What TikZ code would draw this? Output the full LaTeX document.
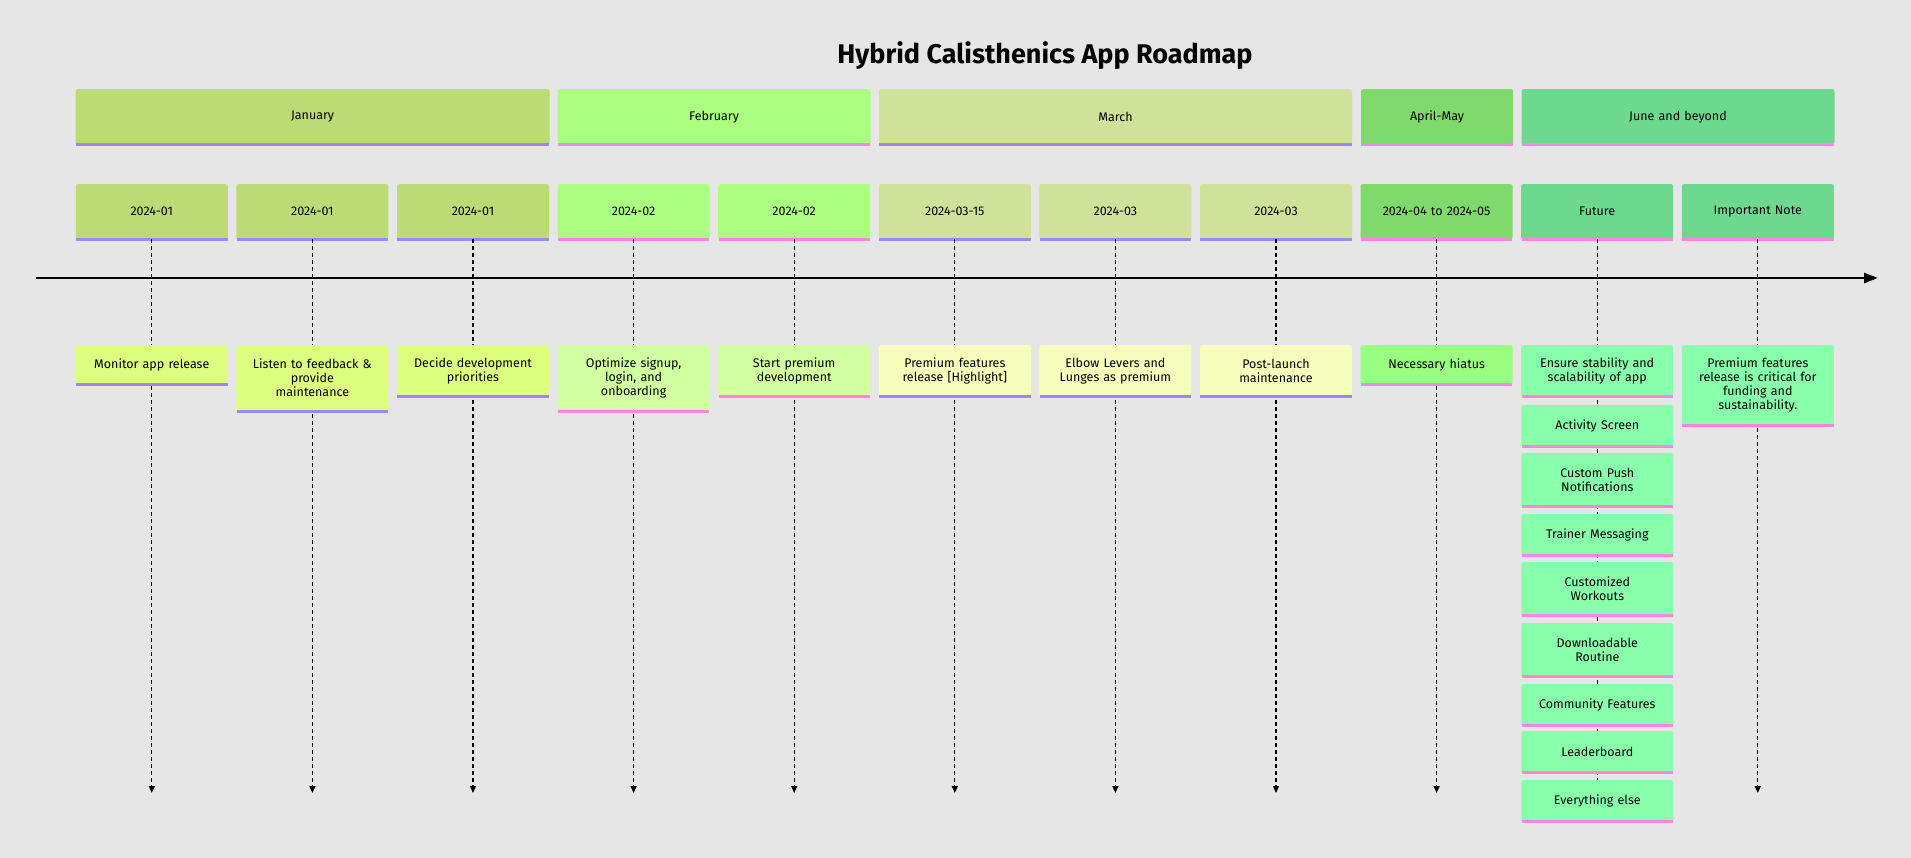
\documentclass[tikz,border=0pt]{standalone}
\usepackage{fontspec}
\setmainfont{Fira Sans}
\usetikzlibrary{arrows.meta}
\definecolor{bg}{HTML}{E6E6E6}
\definecolor{janS}{HTML}{BCDB75}\definecolor{janE}{HTML}{DDFF80}
\definecolor{febS}{HTML}{AAFF80}\definecolor{febE}{HTML}{D2FF9F}
\definecolor{marS}{HTML}{D0E29A}\definecolor{marE}{HTML}{F5FFBB}
\definecolor{aprS}{HTML}{80D96B}\definecolor{aprE}{HTML}{99FF80}
\definecolor{junS}{HTML}{6CD98F}\definecolor{junE}{HTML}{88FFAA}
\definecolor{purp}{HTML}{9F85FF}\definecolor{pink}{HTML}{FF85E0}
\tikzset{
 box/.style={anchor=north, inner sep=2pt, align=center, text width=148pt, font=\fontsize{12.5}{14}\selectfont, rounded corners=2pt},
 conn/.style={dash pattern=on 4pt off 3pt, line width=1.3pt, -{Triangle[length=7pt,width=6pt]}},
 edge/.style={line width=2.5pt},
}
\newcommand{\bb}[2]{\draw[edge,#2] ([xshift=0.5pt]#1.south west) -- ([xshift=-0.5pt]#1.south east);}
\begin{document}
\begin{tikzpicture}[x=1pt,y=-1pt]
\fill[bg] (0,0) rectangle (1911,858);
\node[font=\fontsize{27}{30}\selectfont\bfseries] (title) at (1045,56) {Hybrid Calisthenics App Roadmap};
% sections
\node[box,fill=janS,text width=470pt,minimum height=55pt] (sJ) at (312.6,89) {January}; \bb{sJ}{purp}
\node[box,fill=febS,text width=309pt,minimum height=55pt] (sF) at (714,89) {February}; \bb{sF}{pink}
\node[box,fill=marS,text width=469pt,minimum height=55pt] (sM) at (1115.5,89) {March}; \bb{sM}{purp}
\node[box,fill=aprS,text width=148pt,minimum height=55pt] (sA) at (1437,89) {April-May}; \bb{sA}{pink}
\node[box,fill=junS,text width=309pt,minimum height=55pt] (sU) at (1678,89) {June and beyond}; \bb{sU}{pink}
% timeline
\coordinate (tl0) at (36,278); \coordinate (tl1) at (1878,278);
\draw[line width=2.5pt,-{Triangle[length=14pt,width=10pt]}] (tl0) -- (tl1);
% tasks
\foreach \i/\lab/\c/\bc in {0/2024-01/janS/purp,1/2024-01/janS/purp,2/2024-01/janS/purp,3/2024-02/febS/pink,4/2024-02/febS/pink,5/2024-03-15/marS/purp,6/2024-03/marS/purp,7/2024-03/marS/purp,8/2024-04 to 2024-05/aprS/pink,9/Future/junS/pink,10/Important Note/junS/pink}{
 \pgfmathsetmacro{\xx}{151.8+\i*160.6}
 \node[box,fill=\c,minimum height=55pt] (t\i) at (\xx,184) {\lab}; \bb{t\i}{\bc}
 \coordinate (b\i) at (\xx,793);
 \draw[conn] (t\i.south) -- (b\i);
}
% events
\foreach \i/\lab/\h/\c/\bc in {0/Monitor app release/39/janE/purp,1/{Listen to feedback \&\\provide\\maintenance}/66/janE/purp,2/{Decide development\\priorities}/51/janE/purp,3/{Optimize signup,\\login, and\\onboarding}/66/febE/pink,4/{Start premium\\development}/51/febE/pink,5/{Premium features\\release [Highlight]}/51/marE/purp,6/{Elbow Levers and\\Lunges as premium}/51/marE/purp,7/{Post-launch\\maintenance}/51/marE/purp,8/Necessary hiatus/39/aprE/pink,9/{Ensure stability and\\scalability of app}/51/junE/pink,10/{Premium features\\release is critical for\\funding and\\sustainability.}/80/junE/pink}{
 \pgfmathsetmacro{\xx}{151.8+\i*160.6}
 \node[box,fill=\c,minimum height=\h pt] (e\i) at (\xx,345) {\lab}; \bb{e\i}{\bc}
}
% future stack
\foreach \k/\lab/\y/\h in {1/Activity Screen/405/41,2/{Custom Push\\Notifications}/453/53,3/Trainer Messaging/514/41,4/{Customized\\Workouts}/562/53,5/{Downloadable\\Routine}/623/53,6/Community Features/684/41,7/Leaderboard/731/41,8/Everything else/780/41}{
 \node[box,fill=junE,minimum height=\h pt] (f\k) at (1597.3,\y) {\lab}; \bb{f\k}{pink}
}
\end{tikzpicture}
\end{document}
